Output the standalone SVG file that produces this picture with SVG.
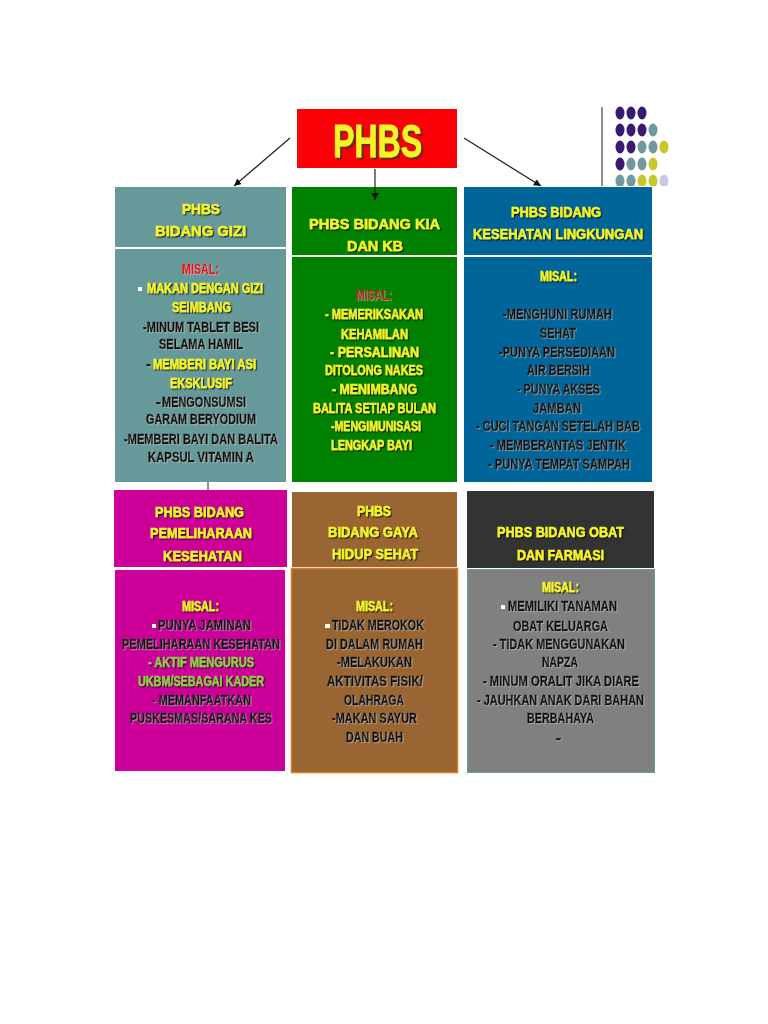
<svg xmlns="http://www.w3.org/2000/svg" width="768" height="1024" viewBox="0 0 768 1024">
<style>
text{font-family:"Liberation Sans",Arial,sans-serif;font-weight:700;font-size:15px;letter-spacing:0}
.y{fill:#f4f42c;stroke:#f4f42c;stroke-width:.45;filter:url(#sd)}
.k{fill:#0c0c0c;stroke:#0c0c0c;stroke-width:.6;filter:url(#sl)}
.r{fill:#e8101c;stroke:#e8101c;stroke-width:.4;filter:url(#sl)}
.d{fill:#b02a14;stroke:#b02a14;stroke-width:.4;filter:url(#sl)}
.g{fill:#92cc4c;stroke:#92cc4c;stroke-width:.4;filter:url(#sd)}
.t{fill:#f4f42c;stroke:#f4f42c;stroke-width:.8;filter:url(#st);font-size:46px}
.c{stroke:#222;stroke-width:1.2;fill:none;marker-end:url(#ah)}
.pu{fill:#3a1a6e}.te{fill:#6f9a9e}.ye{fill:#c8c82a}.la{fill:#c9c9e6}
</style>
<defs>
<filter id="sd" x="-10%" y="-30%" width="125%" height="170%"><feGaussianBlur stdDeviation="0.35" result="b"/><feDropShadow in="b" dx="1.2" dy="1.2" stdDeviation="0.4" flood-color="#111" flood-opacity="0.85"/></filter>
<filter id="sl" x="-10%" y="-30%" width="125%" height="170%"><feGaussianBlur stdDeviation="0.35" result="b"/><feDropShadow in="b" dx="0.8" dy="0.8" stdDeviation="0.4" flood-color="#ddd" flood-opacity="0.5"/></filter>
<filter id="st" x="-10%" y="-20%" width="125%" height="150%"><feGaussianBlur stdDeviation="0.4" result="b"/><feDropShadow in="b" dx="2.2" dy="2.2" stdDeviation="0.4" flood-color="#6a2a10" flood-opacity="1"/></filter>
<marker id="ah" markerWidth="7" markerHeight="7" refX="6" refY="3" orient="auto"><path d="M0,0 L6,3 L0,6 Z" fill="#111"/></marker>
<clipPath id="dc"><rect x="600" y="100" width="80" height="86"/></clipPath>
</defs>
<rect width="768" height="1024" fill="#fff"/>

<g id="decor">
<line x1="602" y1="107" x2="602" y2="186" stroke="#444" stroke-width="1.2"/>
<g clip-path="url(#dc)">
<ellipse class="pu" cx="620" cy="113" rx="4.500" ry="6.500"/><ellipse class="pu" cx="631" cy="113" rx="4.500" ry="6.500"/><ellipse class="pu" cx="642" cy="113" rx="4.500" ry="6.500"/>
<ellipse class="pu" cx="620" cy="130" rx="4.500" ry="6.500"/><ellipse class="pu" cx="631" cy="130" rx="4.500" ry="6.500"/><ellipse class="pu" cx="642" cy="130" rx="4.500" ry="6.500"/><ellipse class="te" cx="653" cy="130" rx="4.500" ry="6.500"/>
<ellipse class="pu" cx="620" cy="147" rx="4.500" ry="6.500"/><ellipse class="pu" cx="631" cy="147" rx="4.500" ry="6.500"/><ellipse class="te" cx="642" cy="147" rx="4.500" ry="6.500"/><ellipse class="te" cx="653" cy="147" rx="4.500" ry="6.500"/><ellipse class="ye" cx="664" cy="147" rx="4.500" ry="6.500"/>
<ellipse class="pu" cx="620" cy="164" rx="4.500" ry="6.500"/><ellipse class="te" cx="631" cy="164" rx="4.500" ry="6.500"/><ellipse class="te" cx="642" cy="164" rx="4.500" ry="6.500"/><ellipse class="ye" cx="653" cy="164" rx="4.500" ry="6.500"/>
<ellipse class="te" cx="620" cy="181" rx="4.500" ry="6.500"/><ellipse class="te" cx="631" cy="181" rx="4.500" ry="6.500"/><ellipse class="ye" cx="642" cy="181" rx="4.500" ry="6.500"/><ellipse class="ye" cx="653" cy="181" rx="4.500" ry="6.500"/><ellipse class="la" cx="664" cy="181" rx="4.500" ry="6.500"/>
</g>
</g>

<g id="node-phbs">
<rect x="297" y="109" width="160" height="59" fill="#fb0007"/>
<text class="t" x="333" y="157" textLength="89" lengthAdjust="spacingAndGlyphs">PHBS</text>
</g>

<g id="node-gizi-head">
<rect x="115" y="187" width="171" height="60" fill="#669999"/>
<text class="y" x="182" y="214" textLength="38" lengthAdjust="spacingAndGlyphs">PHBS</text>
<text class="y" x="155" y="236" textLength="91" lengthAdjust="spacingAndGlyphs">BIDANG GIZI</text>
</g>
<g id="node-gizi-body">
<rect x="115" y="249" width="171" height="233" fill="#669999"/>
<text class="r" x="182" y="274" textLength="37" lengthAdjust="spacingAndGlyphs">MISAL:</text>
<rect x="138" y="287" width="4" height="4" fill="#fff"/>
<text class="y" x="147" y="293" textLength="116" lengthAdjust="spacingAndGlyphs">MAKAN DENGAN GIZI</text>
<text class="y" x="172" y="312" textLength="59" lengthAdjust="spacingAndGlyphs">SEIMBANG</text>
<text class="k" x="143" y="332" textLength="116" lengthAdjust="spacingAndGlyphs">-MINUM TABLET BESI</text>
<text class="k" x="159" y="349" textLength="84" lengthAdjust="spacingAndGlyphs">SELAMA HAMIL</text>
<text class="k" x="146" y="369">-</text>
<text class="y" x="153" y="369" textLength="103" lengthAdjust="spacingAndGlyphs">MEMBERI BAYI ASI</text>
<text class="y" x="170" y="388" textLength="62" lengthAdjust="spacingAndGlyphs">EKSKLUSIF</text>
<text class="k" x="156" y="407">-</text>
<text class="k" x="162" y="407" textLength="84" lengthAdjust="spacingAndGlyphs">MENGONSUMSI</text>
<text class="k" x="146" y="424" textLength="110" lengthAdjust="spacingAndGlyphs">GARAM BERYODIUM</text>
<text class="k" x="124" y="444" textLength="154" lengthAdjust="spacingAndGlyphs">-MEMBERI BAYI DAN BALITA</text>
<text class="k" x="148" y="462" textLength="106" lengthAdjust="spacingAndGlyphs">KAPSUL VITAMIN A</text>
</g>

<g id="node-kia-head">
<rect x="292" y="187" width="165" height="68" fill="#008000"/>
<text class="y" x="309" y="229" textLength="131" lengthAdjust="spacingAndGlyphs">PHBS BIDANG KIA</text>
<text class="y" x="347" y="251" textLength="56" lengthAdjust="spacingAndGlyphs">DAN KB</text>
</g>
<g id="node-kia-body">
<rect x="292" y="257" width="165" height="225" fill="#008000"/>
<text class="d" x="356" y="300" textLength="36" lengthAdjust="spacingAndGlyphs">MISAL:</text>
<text class="y" x="325" y="319" textLength="98" lengthAdjust="spacingAndGlyphs">- MEMERIKSAKAN</text>
<text class="y" x="341" y="339" textLength="67" lengthAdjust="spacingAndGlyphs">KEHAMILAN</text>
<text class="y" x="330" y="357" textLength="89" lengthAdjust="spacingAndGlyphs" style="font-size:14px">- PERSALINAN</text>
<text class="y" x="325" y="375" textLength="98" lengthAdjust="spacingAndGlyphs">DITOLONG NAKES</text>
<text class="y" x="332" y="394" textLength="85" lengthAdjust="spacingAndGlyphs" style="font-size:14px">- MENIMBANG</text>
<text class="y" x="313" y="413" textLength="123" lengthAdjust="spacingAndGlyphs">BALITA SETIAP BULAN</text>
<text class="y" x="331" y="431" textLength="90" lengthAdjust="spacingAndGlyphs">-MENGIMUNISASI</text>
<text class="y" x="331" y="450" textLength="81" lengthAdjust="spacingAndGlyphs">LENGKAP BAYI</text>
</g>

<g id="node-kesling-head">
<rect x="464" y="187" width="188" height="68" fill="#006699"/>
<text class="y" x="511" y="217" textLength="90" lengthAdjust="spacingAndGlyphs">PHBS BIDANG</text>
<text class="y" x="473" y="239" textLength="170" lengthAdjust="spacingAndGlyphs">KESEHATAN LINGKUNGAN</text>
</g>
<g id="node-kesling-body">
<rect x="464" y="257" width="188" height="225" fill="#006699"/>
<text class="y" x="540" y="281" textLength="37" lengthAdjust="spacingAndGlyphs">MISAL:</text>
<text class="k" x="503" y="319" textLength="109" lengthAdjust="spacingAndGlyphs">-MENGHUNI RUMAH</text>
<text class="k" x="540" y="338" textLength="36" lengthAdjust="spacingAndGlyphs">SEHAT</text>
<text class="k" x="499" y="357" textLength="116" lengthAdjust="spacingAndGlyphs">-PUNYA PERSEDIAAN</text>
<text class="k" x="527" y="375" textLength="63" lengthAdjust="spacingAndGlyphs">AIR BERSIH</text>
<text class="k" x="517" y="394" textLength="83" lengthAdjust="spacingAndGlyphs">- PUNYA AKSES</text>
<text class="k" x="533" y="413" textLength="48" lengthAdjust="spacingAndGlyphs">JAMBAN</text>
<text class="k" x="476" y="431" textLength="164" lengthAdjust="spacingAndGlyphs">- CUCI TANGAN SETELAH BAB</text>
<text class="k" x="490" y="450" textLength="136" lengthAdjust="spacingAndGlyphs">- MEMBERANTAS JENTIK</text>
<text class="k" x="488" y="469" textLength="142" lengthAdjust="spacingAndGlyphs">- PUNYA TEMPAT SAMPAH</text>
</g>

<g id="node-pemeliharaan-head">
<rect x="114" y="490" width="173" height="77" fill="#cc0099"/>
<text class="y" x="155" y="517" textLength="89" lengthAdjust="spacingAndGlyphs">PHBS BIDANG</text>
<text class="y" x="150" y="538" textLength="102" lengthAdjust="spacingAndGlyphs">PEMELIHARAAN</text>
<text class="y" x="163" y="561" textLength="79" lengthAdjust="spacingAndGlyphs">KESEHATAN</text>
</g>
<g id="node-pemeliharaan-body">
<rect x="115" y="570" width="170" height="201" fill="#cc0099"/>
<text class="y" x="182" y="611" textLength="37" lengthAdjust="spacingAndGlyphs">MISAL:</text>
<rect x="152" y="624" width="4" height="4" fill="#fff"/>
<text class="k" x="158" y="630" textLength="93" lengthAdjust="spacingAndGlyphs">PUNYA JAMINAN</text>
<text class="k" x="122" y="649" textLength="158" lengthAdjust="spacingAndGlyphs">PEMELIHARAAN KESEHATAN</text>
<text class="g" x="148" y="667" textLength="106" lengthAdjust="spacingAndGlyphs">- AKTIF MENGURUS</text>
<text class="g" x="138" y="686" textLength="126" lengthAdjust="spacingAndGlyphs">UKBM/SEBAGAI KADER</text>
<text class="k" x="152" y="705" textLength="99" lengthAdjust="spacingAndGlyphs">- MEMANFAATKAN</text>
<text class="k" x="130" y="723" textLength="142" lengthAdjust="spacingAndGlyphs">PUSKESMAS/SARANA KES</text>
</g>

<g id="node-gaya-head">
<rect x="292" y="492" width="165" height="75" fill="#996633"/>
<text class="y" x="357" y="516" textLength="34" lengthAdjust="spacingAndGlyphs">PHBS</text>
<text class="y" x="328" y="537" textLength="90" lengthAdjust="spacingAndGlyphs">BIDANG GAYA</text>
<text class="y" x="332" y="559" textLength="86" lengthAdjust="spacingAndGlyphs">HIDUP SEHAT</text>
</g>
<g id="node-gaya-body">
<rect x="291.500" y="568.500" width="166" height="204" fill="#996633" stroke="#e07820" stroke-width="1.500"/>
<text class="y" x="356" y="611" textLength="37" lengthAdjust="spacingAndGlyphs">MISAL:</text>
<rect x="325" y="624" width="5" height="4" fill="#fff"/>
<text class="k" x="332" y="630" textLength="92" lengthAdjust="spacingAndGlyphs">TIDAK MEROKOK</text>
<text class="k" x="326" y="649" textLength="97" lengthAdjust="spacingAndGlyphs">DI DALAM RUMAH</text>
<text class="k" x="337" y="667" textLength="75" lengthAdjust="spacingAndGlyphs">-MELAKUKAN</text>
<text class="k" x="327" y="686" textLength="96" lengthAdjust="spacingAndGlyphs">AKTIVITAS FISIK/</text>
<text class="k" x="344" y="705" textLength="60" lengthAdjust="spacingAndGlyphs">OLAHRAGA</text>
<text class="k" x="332" y="723" textLength="85" lengthAdjust="spacingAndGlyphs">-MAKAN SAYUR</text>
<text class="k" x="346" y="742" textLength="57" lengthAdjust="spacingAndGlyphs">DAN BUAH</text>
</g>

<g id="node-obat-head">
<rect x="467" y="491" width="187" height="77" fill="#333333"/>
<text class="y" x="497" y="537" textLength="127" lengthAdjust="spacingAndGlyphs">PHBS BIDANG OBAT</text>
<text class="y" x="517" y="560" textLength="87" lengthAdjust="spacingAndGlyphs">DAN FARMASI</text>
</g>
<g id="node-obat-body">
<rect x="467.500" y="569.500" width="187" height="203" fill="#808080" stroke="#6f9a9e"/>
<text class="y" x="542" y="592" textLength="37" lengthAdjust="spacingAndGlyphs">MISAL:</text>
<rect x="501" y="605" width="4" height="4" fill="#fff"/>
<text class="k" x="508" y="611" textLength="109" lengthAdjust="spacingAndGlyphs">MEMILIKI TANAMAN</text>
<text class="k" x="513" y="631" textLength="95" lengthAdjust="spacingAndGlyphs">OBAT KELUARGA</text>
<text class="k" x="493" y="649" textLength="132" lengthAdjust="spacingAndGlyphs">- TIDAK MENGGUNAKAN</text>
<text class="k" x="542" y="667" textLength="36" lengthAdjust="spacingAndGlyphs">NAPZA</text>
<text class="k" x="483" y="686" textLength="156" lengthAdjust="spacingAndGlyphs">- MINUM ORALIT JIKA DIARE</text>
<text class="k" x="477" y="705" textLength="167" lengthAdjust="spacingAndGlyphs">- JAUHKAN ANAK DARI BAHAN</text>
<text class="k" x="527" y="723" textLength="67" lengthAdjust="spacingAndGlyphs">BERBAHAYA</text>
<text class="k" x="556" y="743">-</text>
</g>

<g id="connectors">
<line class="c" x1="290" y1="138" x2="234" y2="186"/>
<line class="c" x1="375" y1="169" x2="375" y2="200"/>
<line class="c" x1="464" y1="138" x2="541" y2="186"/>
<line x1="208" y1="482" x2="208" y2="490" stroke="#222" stroke-width="1"/>
</g>
</svg>
